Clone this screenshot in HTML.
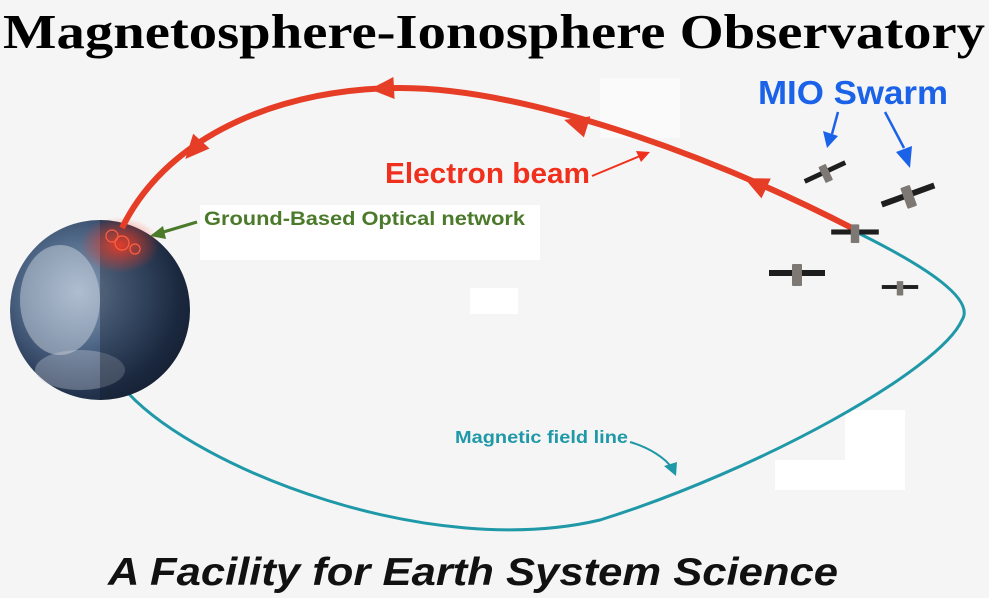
<!DOCTYPE html>
<html><head><meta charset="utf-8"><style>
html,body{margin:0;padding:0;background:#f6f6f6;}
svg{display:block;}
</style></head><body>
<svg width="989" height="598" viewBox="0 0 989 598" xmlns="http://www.w3.org/2000/svg">
<defs>
<radialGradient id="earthG" cx="0.38" cy="0.4" r="0.7">
<stop offset="0" stop-color="#8ea3bd"/><stop offset="0.45" stop-color="#4d6585"/><stop offset="0.8" stop-color="#24344f"/><stop offset="1" stop-color="#1a2438"/>
</radialGradient>
<radialGradient id="glow" cx="0.5" cy="0.5" r="0.5">
<stop offset="0" stop-color="#ff3a20" stop-opacity="0.85"/><stop offset="1" stop-color="#ff3a20" stop-opacity="0"/>
</radialGradient>
<g id="sat"><rect x="-28" y="-3" width="56" height="6" fill="#1e1e1e"/><rect x="-5" y="-9" width="10" height="22" rx="1" fill="#7d7873"/></g>
</defs>
<rect width="989" height="598" fill="#f5f5f5"/>
<rect x="200" y="205" width="340" height="55" fill="#ffffff"/>
<rect x="470" y="288" width="48" height="26" fill="#ffffff"/>
<rect x="845" y="410" width="60" height="80" fill="#ffffff"/>
<rect x="775" y="460" width="80" height="30" fill="#ffffff"/>
<rect x="600" y="78" width="80" height="60" fill="#fafafa"/>
<text x="494" y="48" text-anchor="middle" font-family="Liberation Serif, serif" font-weight="bold" font-size="49" fill="#000" textLength="982" lengthAdjust="spacingAndGlyphs">Magnetosphere-Ionosphere Observatory</text>
<path d="M852,230 C930,268 975,300 962,320 C940,370 760,470 600,520 C430,560 200,470 128,393" fill="none" stroke="#1f98a8" stroke-width="3"/>
<g>
<circle cx="100" cy="310" r="90" fill="url(#earthG)"/>
<ellipse cx="60" cy="300" rx="40" ry="55" fill="#d8dde6" opacity="0.45"/>
<ellipse cx="80" cy="370" rx="45" ry="20" fill="#c8cfd9" opacity="0.35"/>
<path d="M100,220 A90,90 0 0 1 100,400 Z" fill="#0c1322" opacity="0.35"/>
<ellipse cx="120" cy="245" rx="40" ry="28" fill="url(#glow)"/>
<circle cx="112" cy="236" r="6" fill="none" stroke="#ff6040" stroke-width="1.2"/>
<circle cx="122" cy="243" r="7" fill="none" stroke="#ff6040" stroke-width="1.2"/>
<circle cx="135" cy="249" r="5" fill="none" stroke="#ff6040" stroke-width="1.2"/>
</g>
<path d="M122,228 C170,130 290,88 400,88 C520,88 700,150 852,228" fill="none" stroke="#e63d26" stroke-width="6"/>
<g fill="#e63d26">
<polygon points="-4,0 20,-11 20,11" transform="translate(188,156) rotate(-48)"/>
<polygon points="-4,0 20,-11 20,11" transform="translate(374,89) rotate(-3)"/>
<polygon points="-4,0 20,-11 20,11" transform="translate(568,121) rotate(17)"/>
<polygon points="-4,0 20,-11 20,11" transform="translate(748,180) rotate(25)"/>
</g>
<text x="385" y="183" font-family="Liberation Sans, sans-serif" font-weight="bold" font-size="29" fill="#f0301c" textLength="205" lengthAdjust="spacingAndGlyphs">Electron beam</text>
<line x1="592" y1="176" x2="640" y2="156" stroke="#f0301c" stroke-width="2"/>
<polygon points="650,152 636,151 641,162" fill="#f0301c"/>
<text x="204" y="225" font-family="Liberation Sans, sans-serif" font-weight="bold" font-size="19.5" fill="#4a7a2a" textLength="321" lengthAdjust="spacingAndGlyphs">Ground-Based Optical network</text>
<line x1="197" y1="222" x2="160" y2="233" stroke="#4a7a2a" stroke-width="3"/>
<polygon points="150,236 163,226 166,239" fill="#4a7a2a"/>
<text x="455" y="443" font-family="Liberation Sans, sans-serif" font-weight="bold" font-size="17.5" fill="#1f98a8" textLength="173" lengthAdjust="spacingAndGlyphs">Magnetic field line</text>
<path d="M630,442 C650,448 665,458 672,468" fill="none" stroke="#1f98a8" stroke-width="2"/>
<polygon points="676,476 664,466 677,462" fill="#1f98a8"/>
<text x="758" y="104" font-family="Liberation Sans, sans-serif" font-weight="bold" font-size="33" fill="#1a62e8" textLength="190" lengthAdjust="spacingAndGlyphs">MIO Swarm</text>
<g stroke="#1a62e8" stroke-width="2.5" fill="#1a62e8">
<line x1="838" y1="112" x2="832" y2="134"/>
<polygon points="827,148 823,131 838,136" stroke="none"/>
<line x1="885" y1="112" x2="904" y2="148"/>
<polygon points="910,168 896,152 912,146" stroke="none"/>
</g>
<g>
<use href="#sat" transform="translate(825,172) rotate(-25) scale(0.8)"/>
<use href="#sat" transform="translate(908,195) rotate(-20)"/>
<use href="#sat" transform="translate(855,232) scale(0.85)"/>
<use href="#sat" transform="translate(797,273)"/>
<use href="#sat" transform="translate(900,287) scale(0.65)"/>
</g>
<text x="473" y="585" text-anchor="middle" font-family="Liberation Sans, sans-serif" font-weight="bold" font-style="italic" font-size="39" fill="#111" textLength="730" lengthAdjust="spacingAndGlyphs">A Facility for Earth System Science</text>
</svg>
</body></html>
